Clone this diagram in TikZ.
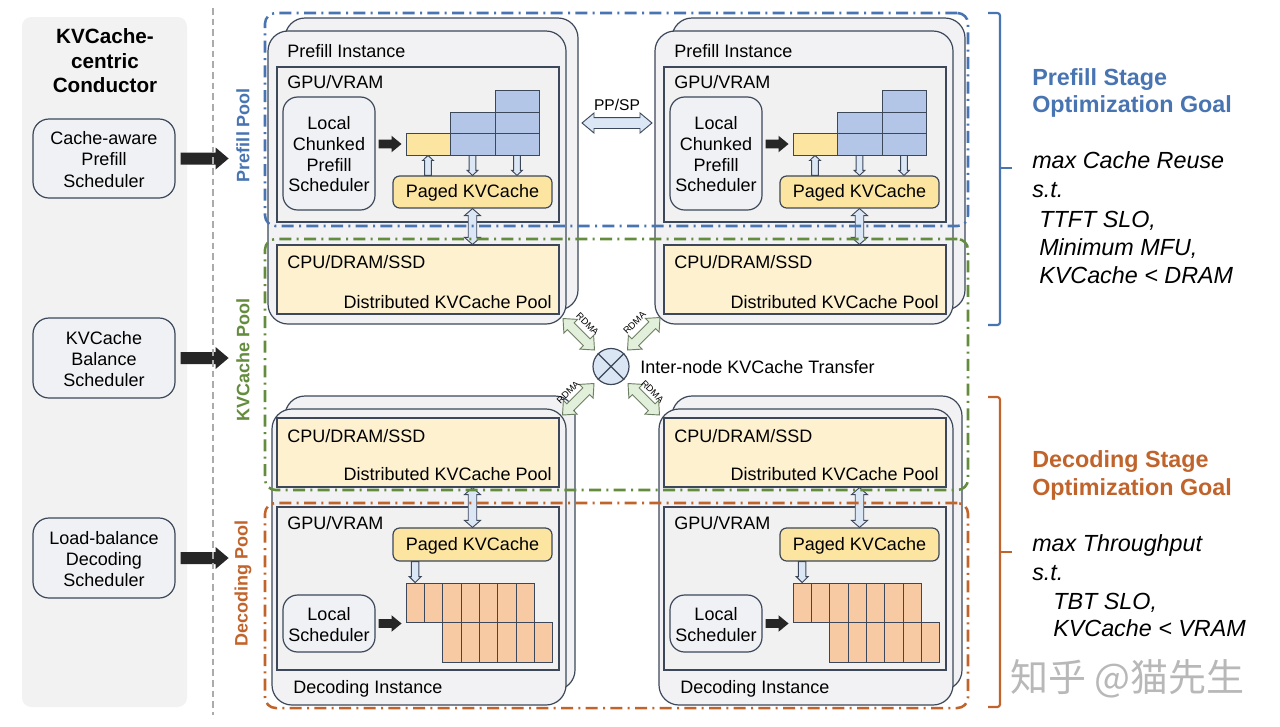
\documentclass[tikz,border=0pt]{standalone}
\usepackage{fontspec}
\setmainfont{Liberation Sans}
\newfontfamily\cjk{Noto Sans CJK SC}
\usetikzlibrary{calc,fit}
\newcommand\fsz[2]{\fontsize{#1}{#2}\selectfont}
% double hollow arrow: style, A, B, head length, shaft half, head half
\newcommand\dblarr[6]{\draw[#1] (#2) -- ($(#2)!#4!(#3)!#6!90:(#3)$) -- ($(#2)!#4!(#3)!#5!90:(#3)$) -- ($(#3)!#4!(#2)!#5!-90:(#2)$) -- ($(#3)!#4!(#2)!#6!-90:(#2)$) -- (#3) -- ($(#3)!#4!(#2)!#6!90:(#2)$) -- ($(#3)!#4!(#2)!#5!90:(#2)$) -- ($(#2)!#4!(#3)!#5!-90:(#3)$) -- ($(#2)!#4!(#3)!#6!-90:(#3)$) -- cycle;}
% single arrow: style, back A, tip B, head length, shaft half, head half
\newcommand\sarr[6]{\draw[#1] ($(#2)!#5!90:(#3)$) -- ($(#3)!#4!(#2)!#5!-90:(#2)$) -- ($(#3)!#4!(#2)!#6!-90:(#2)$) -- (#3) -- ($(#3)!#4!(#2)!#6!90:(#2)$) -- ($(#3)!#4!(#2)!#5!90:(#2)$) -- ($(#2)!#5!-90:(#3)$) -- cycle;}
\definecolor{cardline}{RGB}{60,72,90}
\definecolor{cardfill}{RGB}{242,242,244}
\definecolor{gpufill}{RGB}{241,241,242}
\definecolor{cpufill}{RGB}{253,241,207}
\definecolor{pagedfill}{RGB}{252,229,160}
\definecolor{cellblue}{RGB}{180,198,231}
\definecolor{cellorange}{RGB}{247,202,163}
\definecolor{schedfill}{RGB}{239,241,244}
\definecolor{panelfill}{RGB}{242,242,242}
\definecolor{bluepool}{RGB}{72,116,178}
\definecolor{greenpool}{RGB}{100,140,62}
\definecolor{orangepool}{RGB}{193,100,44}
\definecolor{arrowblue}{RGB}{220,231,245}
\definecolor{rdmafill}{RGB}{226,239,218}
\definecolor{rdmaline}{RGB}{110,128,100}
\definecolor{circfill}{RGB}{218,230,243}
\definecolor{blackarrow}{RGB}{38,38,38}
\begin{document}
\begin{tikzpicture}[x=0.75pt,y=-0.75pt,
  card/.style={draw=cardline, fill=cardfill, line width=0.9pt, rounded corners=15pt, inner sep=0pt},
  region/.style={draw=cardline, line width=0.9pt, inner sep=0pt},
  gpubox/.style={region, fill=gpufill},
  cpubox/.style={region, fill=cpufill},
  sched/.style={draw=cardline, fill=schedfill, line width=0.9pt, rounded corners=11pt, inner sep=0pt},
  schedtxt/.style={font=\fsz{13.5}{15.5}, align=center, inner sep=0pt},
  pagedbox/.style={draw=cardline, fill=pagedfill, line width=0.9pt, rounded corners=5pt, inner sep=0pt},
  pool/.style={line width=1.9pt, dash pattern=on 9pt off 4pt on 1.5pt off 4pt, rounded corners=8pt, inner sep=0pt},
  lbl/.style={font=\fsz{13.5}{16}, inner sep=0pt, anchor=base west},
  cell/.style={draw=cardline, line width=0.7pt, inner sep=0pt},
  hollow/.style={draw=cardline, fill=arrowblue, line width=0.7pt, line join=miter},
  rdma/.style={draw=rdmaline, fill=rdmafill, line width=0.7pt, line join=miter},
  blk/.style={fill=blackarrow, draw=none},
  goal/.style={font=\bfseries\fsz{17.5}{20}, inner sep=0pt, anchor=base west},
  cond/.style={font=\itshape\fsz{17.5}{20}, inner sep=0pt, anchor=base west},
  poollbl/.style={font=\bfseries\fsz{13.5}{16}, rotate=90, inner sep=0pt},
  rdmalbl/.style={font=\fsz{7}{8}, inner sep=0pt}
]
\useasboundingbox (0,0) rectangle (1280,726);
\fill[white] (0,0) rectangle (1280,726);

% ---------- conductor panel ----------
\node[fit={(22,17)(187,707)}, fill=panelfill, rounded corners=7pt, inner sep=0pt] (panel) {};
\node[font=\bfseries\fsz{15.5}{18}, anchor=base, inner sep=0pt] (t1) at (105,43) {KVCache-};
\node[font=\bfseries\fsz{15.5}{18}, anchor=base, inner sep=0pt] (t2) at (105,68) {centric};
\node[font=\bfseries\fsz{15.5}{18}, anchor=base, inner sep=0pt] (t3) at (105,92) {Conductor};
\node[sched, rounded corners=12pt, fit={(33,119)(175,198)}] (cps) {};
\node[schedtxt, font=\fsz{13.5}{16}] (cpsT) at ($(cps.center)+(0,1)$) {Cache-aware\\Prefill\\Scheduler};
\node[sched, rounded corners=12pt, fit={(33,318)(175,398)}] (kbs) {};
\node[schedtxt, font=\fsz{13.5}{16}] (kbsT) at ($(kbs.center)+(0,1)$) {KVCache\\Balance\\Scheduler};
\node[sched, rounded corners=12pt, fit={(33,518)(175,598)}] (lbs) {};
\node[schedtxt, font=\fsz{13.5}{16}] (lbsT) at ($(lbs.center)+(0,1)$) {Load-balance\\Decoding\\Scheduler};
\coordinate (a1s) at ($(cps.east)+(5,0)$);  \coordinate (a1t) at ($(cps.east)+(53,0)$);
\coordinate (a2s) at ($(kbs.east)+(5,0)$);  \coordinate (a2t) at ($(kbs.east)+(53,0)$);
\coordinate (a3s) at ($(lbs.east)+(5,0)$);  \coordinate (a3t) at ($(lbs.east)+(53,0)$);
\sarr{blk}{a1s}{a1t}{9.75pt}{4.5pt}{8.25pt}
\sarr{blk}{a2s}{a2t}{9.75pt}{4.5pt}{8.25pt}
\sarr{blk}{a3s}{a3t}{9.75pt}{4.5pt}{8.25pt}

% separator
\coordinate (sepT) at (213,8); \coordinate (sepB) at (213,715);
\draw[black!33, line width=1.1pt, dash pattern=on 5pt off 3pt] (sepT) -- (sepB);

% pool labels
\node[poollbl, text=bluepool] (ppl) at (243,135) {Prefill Pool};
\node[poollbl, text=greenpool] (kpl) at (243,360) {KVCache Pool};
\node[poollbl, text=orangepool] (dpl) at (243,583) {Decoding Pool};

% ---------- prefill instances ----------
\foreach \sx/\n in {0/L,387/R}{
  \node[card, fit={(\sx+285,18)(\sx+578,310)}] (pback\n) {};
  \node[card, fit={(\sx+268,31)(\sx+566,324)}] (pfront\n) {};
  \node[lbl] (ptit\n) at (\sx+287,57) {Prefill Instance};
  \node[gpubox, fit={(\sx+277,67)(\sx+559,222)}] (pgpu\n) {};
  \node[lbl] (pgpul\n) at (\sx+287,88) {GPU/VRAM};
  \node[sched, fit={(\sx+283,97)(\sx+375,210)}] (plcs\n) {};
  \node[schedtxt] (plcsT\n) at ($(plcs\n.center)+(0,1)$) {Local\\Chunked\\Prefill\\Scheduler};
  \node[cell, fill=pagedfill, fit={(\sx+406,133)(\sx+450,155)}] (pyc\n) {};
  \node[cell, fill=cellblue, fit={(\sx+450,133)(\sx+495,155)}] (pb1\n) {};
  \node[cell, fill=cellblue, fit={(\sx+450,112)(\sx+495,133)}] (pb2\n) {};
  \node[cell, fill=cellblue, fit={(\sx+495,133)(\sx+539,155)}] (pb3\n) {};
  \node[cell, fill=cellblue, fit={(\sx+495,112)(\sx+539,133)}] (pb4\n) {};
  \node[cell, fill=cellblue, fit={(\sx+495,90)(\sx+539,112)}] (pb5\n) {};
  \node[pagedbox, fit={(\sx+393,176)(\sx+552,208)}] (ppk\n) {};
  \node[schedtxt] (ppkT\n) at ($(ppk\n.center)+(0,1)$) {Paged KVCache};
  \node[cpubox, fit={(\sx+277,245)(\sx+559,314)}] (pcpu\n) {};
  \node[lbl] (pcpul\n) at (\sx+287,268) {CPU/DRAM/SSD};
  \node[lbl, anchor=base east] (pdkp\n) at (\sx+552,308) {Distributed KVCache Pool};
  % arrows
  \coordinate (pas\n) at ($(plcs\n.east |- pyc\n.west)+(3,0)$);
  \coordinate (pat\n) at ($(pyc\n.west)+(-4,0)$);
  \sarr{blk}{pas\n}{pat\n}{7.5pt}{3.2pt}{6.2pt}
  \coordinate (pu\n) at (pyc\n.south |- ppk\n.north);
  \sarr{hollow}{pu\n}{pyc\n.south}{3.75pt}{2.5pt}{4pt}
  \coordinate (pd1\n) at (pb1\n.south |- ppk\n.north);
  \sarr{hollow}{pb1\n.south}{pd1\n}{3.75pt}{2.5pt}{4pt}
  \coordinate (pd2\n) at (pb3\n.south |- ppk\n.north);
  \sarr{hollow}{pb3\n.south}{pd2\n}{3.75pt}{2.5pt}{4pt}
  \coordinate (pv\n) at (ppk\n.south |- pcpu\n.north);
  \dblarr{hollow}{ppk\n.south}{pv\n}{5.25pt}{3.2pt}{6pt}
}

% ---------- decoding instances ----------
\foreach \sx/\n in {0/L,387/R}{
  \node[card, fit={(\sx+285,396)(\sx+575,690)}] (dback\n) {};
  \node[card, fit={(\sx+272,409)(\sx+566,705)}] (dfront\n) {};
  \node[cpubox, fit={(\sx+277,418)(\sx+559,487)}] (dcpu\n) {};
  \node[lbl] (dcpul\n) at (\sx+287,442) {CPU/DRAM/SSD};
  \node[lbl, anchor=base east] (ddkp\n) at (\sx+552,480) {Distributed KVCache Pool};
  \node[gpubox, fit={(\sx+277,507)(\sx+559,670)}] (dgpu\n) {};
  \node[lbl] (dgpul\n) at (\sx+287,529) {GPU/VRAM};
  \node[pagedbox, fit={(\sx+393,528)(\sx+552,561)}] (dpk\n) {};
  \node[schedtxt] (dpkT\n) at ($(dpk\n.center)+(0,1)$) {Paged KVCache};
  \node[cell, fill=cellorange, fit={(\sx+406,583)(\sx+424.33,622)}] (dc\n) {};
  \foreach \i in {1,...,6}{\draw[cell, fill=cellorange] (\sx+406+\i*18.33,583) rectangle ++(18.33,39);}
  \foreach \i in {2,...,7}{\draw[cell, fill=cellorange] (\sx+406+\i*18.33,622) rectangle ++(18.33,40);}
  \node[sched, fit={(\sx+283,595)(\sx+375,652)}] (dls\n) {};
  \node[schedtxt] (dlsT\n) at ($(dls\n.center)+(0,1)$) {Local\\Scheduler};
  \node[lbl] (dtit\n) at (\sx+293,693) {Decoding Instance};
  % arrows
  \coordinate (dv\n) at (dpk\n.north |- dcpu\n.south);
  \dblarr{hollow}{dv\n}{dpk\n.north}{5.25pt}{3.2pt}{6pt}
  \coordinate (dd\n) at (dc\n.north |- dpk\n.south);
  \sarr{hollow}{dd\n}{dc\n.north}{4.5pt}{2.8pt}{4.5pt}
  \coordinate (das\n) at ($(dls\n.east)+(3,0)$);
  \coordinate (dat\n) at ($(dls\n.east -| dc\n.west)+(-4,0)$);
  \sarr{blk}{das\n}{dat\n}{7.5pt}{3.2pt}{6.2pt}
}

% ---------- PP/SP ----------
\coordinate (ppa) at (582,123); \coordinate (ppb) at (652,123);
\dblarr{hollow}{ppa}{ppb}{9pt}{4.1pt}{7.5pt}
\node[font=\fsz{11.7}{14}, anchor=base, inner sep=0pt] (ppsp) at (617,110) {PP/SP};

% ---------- inter-node transfer ----------
\node[circle, draw=cardline, fill=circfill, minimum size=27pt, inner sep=0pt, line width=0.9pt] (xfer) at (611,366.5) {};
\draw[cardline, line width=0.9pt] (xfer.45) -- (xfer.225) (xfer.135) -- (xfer.315);
\node[lbl] (xferl) at (640,373) {Inter-node KVCache Transfer};
\coordinate (r1i) at ($(xfer)+(-16.5,-16.5)$); \coordinate (r1o) at ($(xfer)+(-48,-48)$);
\coordinate (r2i) at ($(xfer)+(16.5,-16.5)$);  \coordinate (r2o) at ($(xfer)+(49,-49)$);
\coordinate (r3i) at ($(xfer)+(-17,17)$);      \coordinate (r3o) at ($(xfer)+(-48.5,48.5)$);
\coordinate (r4i) at ($(xfer)+(17,17)$);       \coordinate (r4o) at ($(xfer)+(48.5,48.5)$);
\dblarr{rdma}{r1o}{r1i}{8.25pt}{3.6pt}{7.3pt}
\dblarr{rdma}{r2o}{r2i}{8.25pt}{3.6pt}{7.3pt}
\dblarr{rdma}{r3o}{r3i}{8.25pt}{3.6pt}{7.3pt}
\dblarr{rdma}{r4o}{r4i}{8.25pt}{3.6pt}{7.3pt}
\node[rdmalbl, rotate=-45] (rl1) at ($(xfer)+(-23.5,-42.5)$) {RDMA};
\node[rdmalbl, rotate=45]  (rl2) at ($(xfer)+(23.5,-43.5)$) {RDMA};
\node[rdmalbl, rotate=45]  (rl3) at ($(xfer)+(-43,26)$) {RDMA};
\node[rdmalbl, rotate=-45] (rl4) at ($(xfer)+(41.5,25)$) {RDMA};

% ---------- pools ----------
\node[pool, draw=bluepool, fit={(265,13)(968,226)}] (ppool) {};
\node[pool, draw=greenpool, fit={(265,239)(968,490)}] (kpool) {};
\node[pool, draw=orangepool, fit={(265,503)(968,708)}] (dpool) {};

% ---------- goals ----------
\coordinate (bb1) at (988,13); \coordinate (bb2) at (1000,13); \coordinate (bb3) at (1000,325); \coordinate (bb4) at (988,325);
\coordinate (bm1) at (1000,168); \coordinate (bm2) at (1012,168);
\draw[bluepool, line width=1.6pt, rounded corners=2pt] (bb1) -- (bb2) -- (bb3) -- (bb4);
\draw[bluepool, line width=1.6pt] (bm1) -- (bm2);
\coordinate (ob1) at (988,397); \coordinate (ob2) at (1000,397); \coordinate (ob3) at (1000,707); \coordinate (ob4) at (988,707);
\coordinate (om1) at (1000,552); \coordinate (om2) at (1012,552);
\draw[orangepool, line width=1.6pt, rounded corners=2pt] (ob1) -- (ob2) -- (ob3) -- (ob4);
\draw[orangepool, line width=1.6pt] (om1) -- (om2);

\node[goal, text=bluepool] (g1) at (1032,85) {Prefill Stage};
\node[goal, text=bluepool] (g2) at (1032,112) {Optimization Goal};
\node[cond] (c1) at (1032,168) {max Cache Reuse};
\node[cond] (c2) at (1032,197) {s.t.};
\node[cond] (c3) at (1039,227) {TTFT SLO,};
\node[cond] (c4) at (1039,255) {Minimum MFU,};
\node[cond] (c5) at (1039,283) {KVCache < DRAM};

\node[goal, text=orangepool] (g3) at (1032,467) {Decoding Stage};
\node[goal, text=orangepool] (g4) at (1032,495) {Optimization Goal};
\node[cond] (c6) at (1032,551) {max Throughput};
\node[cond] (c7) at (1032,580) {s.t.};
\node[cond] (c8) at (1053,609) {TBT SLO,};
\node[cond] (c9) at (1053,636) {KVCache < VRAM};

\node[font=\cjk\fsz{28.5}{31}, text=black!28, anchor=base west, inner sep=0pt] (wm) at (1010,691) {知乎 @猫先生};
\end{tikzpicture}
\end{document}
